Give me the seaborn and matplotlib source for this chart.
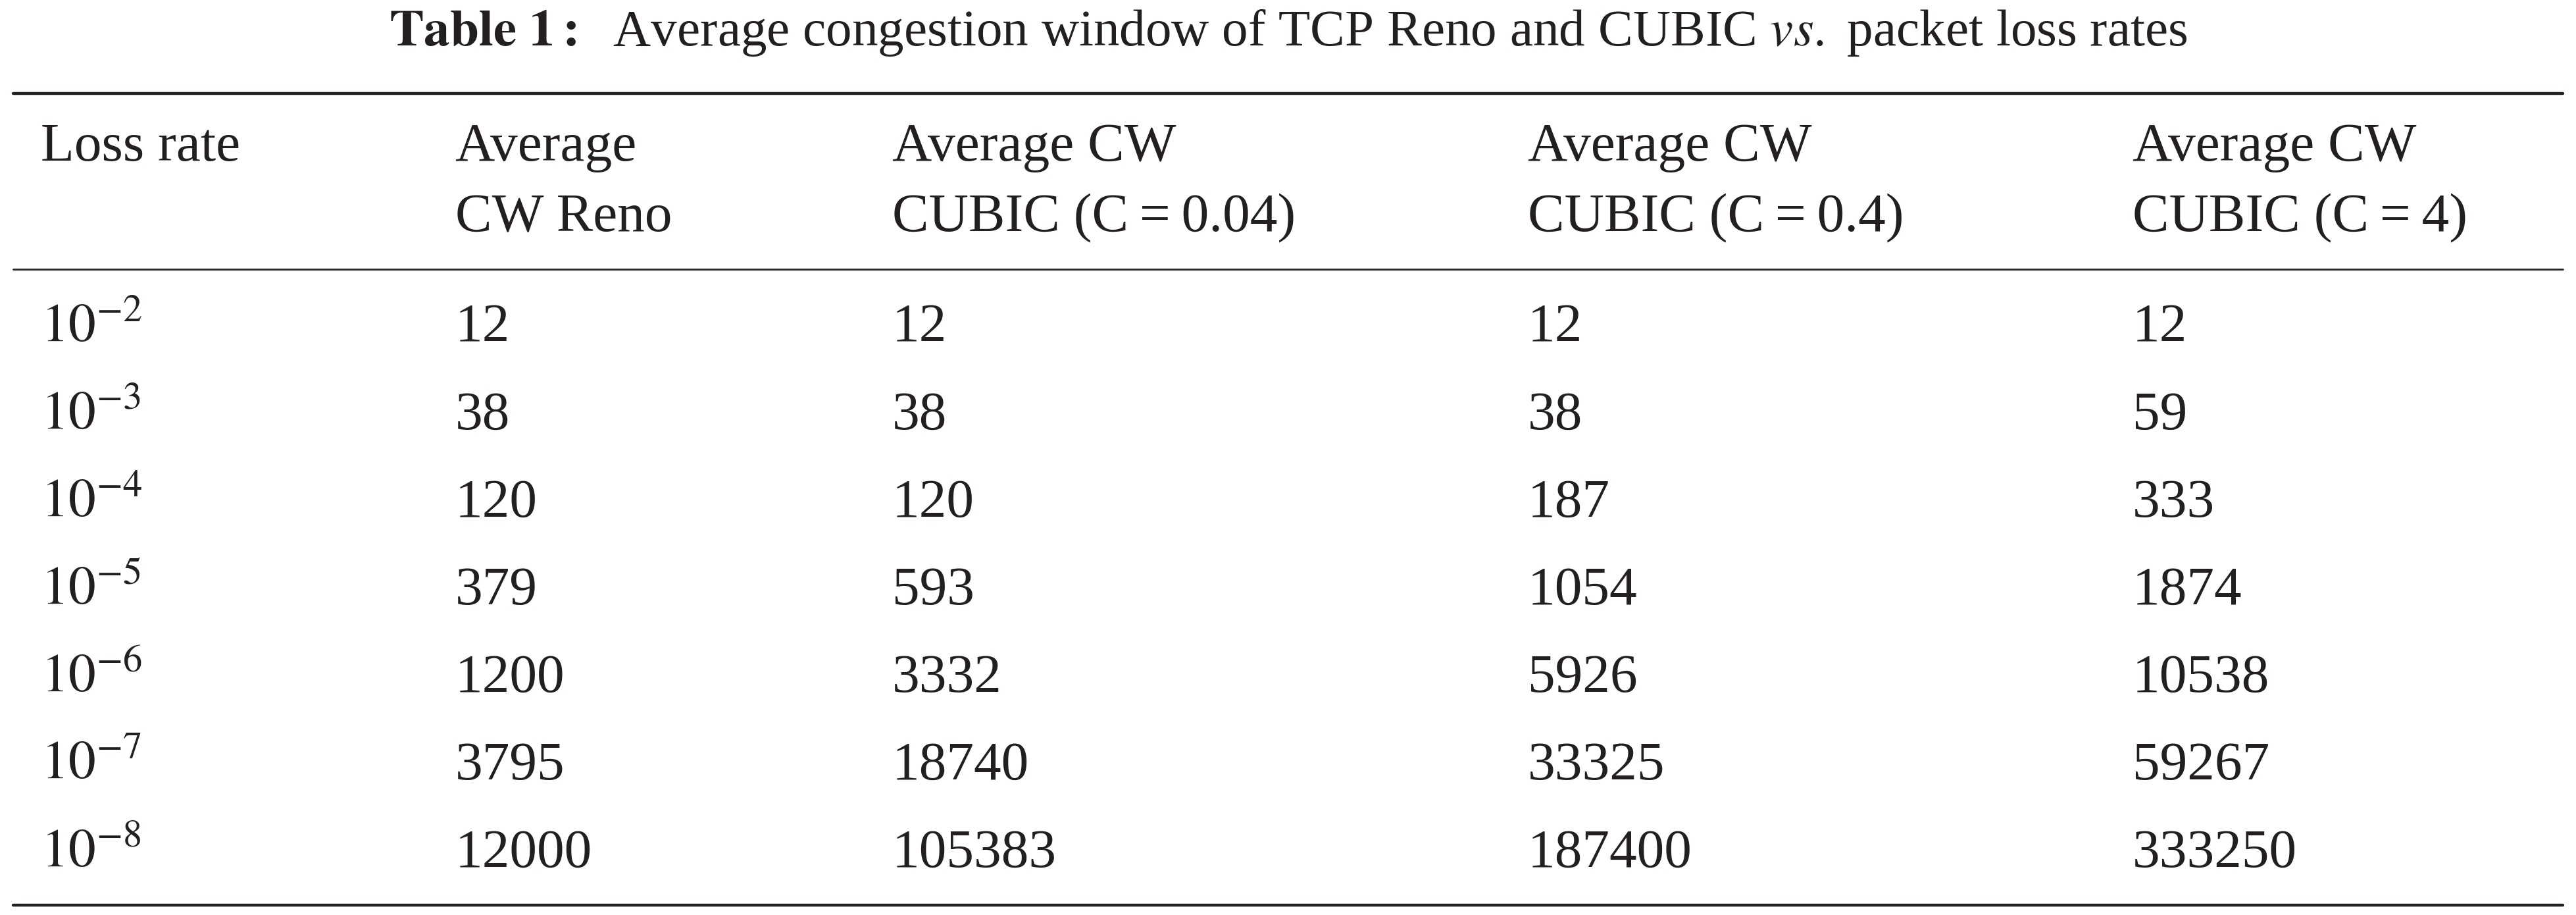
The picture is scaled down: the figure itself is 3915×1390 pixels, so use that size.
import matplotlib
matplotlib.use("Agg")
import matplotlib.pyplot as plt
import seaborn as sns

sns.set_theme(style="white")
plt.rcParams['font.family'] = ['Liberation Serif', 'DejaVu Serif']
plt.rcParams['mathtext.fontset'] = 'stix'

title_rest = "Average congestion window of TCP Reno and CUBIC"
title_end = "packet loss rates"
headers = [["Loss rate", ""], ["Average", "CW Reno"], ["Average CW", "CUBIC (C\u2009=\u20090.04)"],
           ["Average CW", "CUBIC (C\u2009=\u20090.4)"], ["Average CW", "CUBIC (C\u2009=\u20094)"]]
loss_exp = [-2, -3, -4, -5, -6, -7, -8]
reno = [12, 38, 120, 379, 1200, 3795, 12000]
cubic_004 = [12, 38, 120, 593, 3332, 18740, 105383]
cubic_04 = [12, 38, 187, 1054, 5926, 33325, 187400]
cubic_4 = [12, 59, 333, 1874, 10538, 59267, 333250]

W, H = 1568, 557
fig = plt.figure(figsize=(39.15, 13.9), dpi=100)
ax = fig.add_axes([0, 0, 1, 1])
ax.set_xlim(0, W)
ax.set_ylim(H, 0)
ax.axis('off')
fs = 60
c = '#231f20'

ax.text(W / 2, 20, r"$\mathbf{Table\ 1{:}}$" + "  " + title_rest + " " + r"$\mathit{vs.}$" + " " + title_end,
        ha='center', va='center', fontsize=57, color=c)

ax.plot([8, W - 8], [57, 57], color=c, lw=3.2)
ax.plot([8, W - 8], [164, 164], color=c, lw=2.0)
ax.plot([8, W - 8], [551, 551], color=c, lw=3.2)

xs = [25, 277, 543, 930, 1298]
for x, (h1, h2) in zip(xs, headers):
    ax.text(x, 90, h1, ha='left', va='center', fontsize=fs, color=c)
    if h2:
        ax.text(x, 133, h2, ha='left', va='center', fontsize=fs, color=c)

for i, e in enumerate(loss_exp):
    y = 200 + i * 53.3
    ax.text(xs[0], y, r"$10^{%d}$" % e, ha='left', va='center', fontsize=fs, color=c)
    for x, col in zip(xs[1:], [reno, cubic_004, cubic_04, cubic_4]):
        ax.text(x, y, str(col[i]), ha='left', va='center', fontsize=fs, color=c)

fig.savefig("out.png", dpi=100, facecolor='white')
